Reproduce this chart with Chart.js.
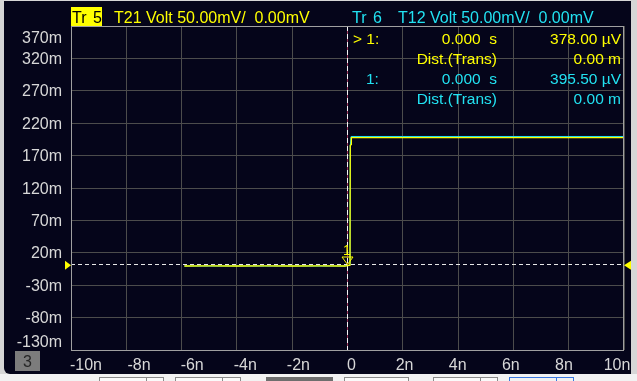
<!DOCTYPE html>
<html>
<head>
<meta charset="utf-8">
<script src="https://cdn.jsdelivr.net/npm/chart.js@4.4.1/dist/chart.umd.min.js"></script>
<style>
  html, body { margin: 0; padding: 0; background: #d6d6d6; }
  canvas { display: block; }
</style>
</head>
<body>
<canvas id="scope" width="637" height="381" style="width:637px;height:381px"></canvas>
<script>
// time axis in ns, voltage in mV
const xTicksNs = [-10, -8, -6, -4, -2, 0, 2, 4, 6, 8, 10];
const yTicksMv = [-130, -80, -30, 20, 70, 120, 170, 220, 270, 320, 370];

// Tr 5 (T21, yellow)
const tr5TimeNs = [-5.9, -5.0, -4.0, -3.0, -2.0, -1.0, -0.1, 0.09, 0.1, 0.13, 0.14, 2.0, 5.0, 10.0];
const tr5VoltMv = [-0.4, -0.3, -0.4, -0.3, -0.4, -0.3, -0.4, 1.0, 186, 187, 197.6, 197.6, 197.6, 197.6];

// Tr 6 (T12, cyan)
const tr6TimeNs = [-5.9, -3.0, -0.1, 0.09, 0.1, 0.13, 2.0, 10.0];
const tr6VoltMv = [-0.4, -0.4, -0.4, 1.0, 185, 199.5, 199.5, 199.5];

const markerTimeNs = 0;
const markerVoltMv = 0.378;

const FONT = '"Liberation Sans", Arial, sans-serif';
const YELLOW = '#ffff00';
const CYAN = '#22e2f2';
const LABEL = '#d8d8d8';

function pts(xs, ys) {
  return xs.map((x, i) => ({ x: x, y: ys[i] }));
}

const screenPlugin = {
  id: 'screen',
  beforeDraw(chart) {
    const ctx = chart.ctx;
    ctx.save();
    ctx.fillStyle = '#d6d6d6';
    ctx.fillRect(0, 0, 637, 381);
    ctx.fillStyle = '#f2f2f2';
    ctx.fillRect(0, 374, 637, 7);
    // soft keys at the bottom edge
    const keys = [[99, 163, 146], [175, 240, 222], [344, 408, 0], [433, 497, 480]];
    ctx.lineWidth = 1;
    keys.forEach(k => {
      ctx.fillStyle = '#fafafa';
      ctx.fillRect(k[0], 377, k[1] - k[0], 6);
      ctx.strokeStyle = '#8a8a8a';
      ctx.strokeRect(k[0] + 0.5, 377.5, k[1] - k[0], 8);
      if (k[2]) { ctx.beginPath(); ctx.moveTo(k[2] + 0.5, 377); ctx.lineTo(k[2] + 0.5, 381); ctx.stroke(); }
    });
    ctx.fillStyle = '#6e6e6e';
    ctx.fillRect(266, 377, 67, 4);
    ctx.strokeStyle = '#3a78e0';
    ctx.strokeRect(509.5, 377.5, 64, 8);
    ctx.beginPath(); ctx.moveTo(556.5, 377); ctx.lineTo(556.5, 381); ctx.stroke();

    ctx.fillStyle = '#05051a';
    ctx.beginPath();
    ctx.roundRect(4, 1, 627, 373, [0, 0, 0, 6]);
    ctx.fill();
    ctx.restore();
  },
  beforeDatasetsDraw(chart) {
    const ctx = chart.ctx;
    const a = chart.chartArea;
    const xs = chart.scales.x, ys = chart.scales.y;
    const y0 = Math.floor(ys.getPixelForValue(0)) - 0.5;
    const mx = Math.floor(xs.getPixelForValue(markerTimeNs)) + 0.5;
    ctx.save();
    ctx.lineWidth = 1;
    // reference level
    ctx.strokeStyle = '#e8e8e8';
    ctx.setLineDash([4, 3]);
    ctx.beginPath(); ctx.moveTo(a.left, y0); ctx.lineTo(a.right, y0); ctx.stroke();
    // marker line
    ctx.setLineDash([]);
    ctx.strokeStyle = '#9a3358';
    ctx.beginPath(); ctx.moveTo(mx, a.top); ctx.lineTo(mx, a.bottom); ctx.stroke();
    ctx.strokeStyle = '#f4f4f4';
    ctx.setLineDash([5, 3]);
    ctx.beginPath(); ctx.moveTo(mx, a.top); ctx.lineTo(mx, a.bottom); ctx.stroke();
    ctx.restore();
  },
  afterDraw(chart) {
    const ctx = chart.ctx;
    const a = chart.chartArea;
    const xs = chart.scales.x, ys = chart.scales.y;
    ctx.save();

    // plot frame
    ctx.strokeStyle = '#a0a0a0';
    ctx.lineWidth = 1;
    ctx.strokeRect(a.left + 0.5, a.top + 0.5, a.right - a.left - 1, a.bottom - a.top);

    // reference arrows
    const yr = ys.getPixelForValue(0) - 0.5;
    ctx.fillStyle = YELLOW;
    ctx.beginPath(); ctx.moveTo(65, yr - 4.5); ctx.lineTo(71, yr); ctx.lineTo(65, yr + 4.5); ctx.closePath(); ctx.fill();
    ctx.beginPath(); ctx.moveTo(631, yr - 4.5); ctx.lineTo(624, yr); ctx.lineTo(631, yr + 4.5); ctx.closePath(); ctx.fill();

    // marker triangle and label
    const mx = xs.getPixelForValue(markerTimeNs);
    const my = ys.getPixelForValue(markerVoltMv);
    ctx.strokeStyle = YELLOW;
    ctx.beginPath(); ctx.moveTo(mx - 5.5, my - 8.5); ctx.lineTo(mx + 5.5, my - 8.5); ctx.lineTo(mx, my - 1); ctx.closePath(); ctx.stroke();
    ctx.fillStyle = YELLOW;
    ctx.font = '14px ' + FONT;
    ctx.textAlign = 'center';
    ctx.textBaseline = 'alphabetic';
    ctx.fillText('1', mx - 0.5, my - 11);

    // axis labels
    ctx.font = '16px ' + FONT;
    ctx.fillStyle = LABEL;
    ctx.textAlign = 'right';
    ys.ticks.forEach(t => {
      let y = ys.getPixelForValue(t.value);
      y = Math.min(Math.max(y, a.top + 11.5), a.bottom - 9);
      ctx.fillText(t.value + 'm', 62, y + 5.5);
    });
    ctx.textAlign = 'center';
    xs.ticks.forEach(t => {
      const px = xs.getPixelForValue(t.value);
      const lx = 86 + (px - a.left) / (a.right - a.left) * 531;
      ctx.fillText(t.value === 0 ? '0' : t.value + 'n', lx, 370);
    });

    // channel box
    ctx.fillStyle = '#7c7c7c';
    ctx.fillRect(15, 351, 25, 20);
    ctx.fillStyle = '#262626';
    ctx.font = '16px ' + FONT;
    ctx.fillText('3', 27.5, 367);

    // header
    ctx.textAlign = 'left';
    ctx.fillStyle = YELLOW;
    ctx.fillRect(71, 7, 31, 19);
    ctx.fillStyle = '#000000';
    ctx.fillText('Tr', 72, 23);
    ctx.fillText('5', 93, 23);
    ctx.fillStyle = YELLOW;
    ctx.fillText('T21 Volt 50.00mV/  0.00mV', 114, 23);
    ctx.fillStyle = CYAN;
    ctx.fillText('Tr', 352, 23);
    ctx.fillText('6', 373, 23);
    ctx.fillText('T12 Volt 50.00mV/  0.00mV', 398, 23);

    // marker readout
    ctx.font = '15.5px ' + FONT;
    const rows = [
      [YELLOW, '> 1:', 353, '0.000  s', '378.00 \u00b5V', 44],
      [YELLOW, '', 353, 'Dist.(Trans)', '0.00 m', 64],
      [CYAN, '1:', 366, '0.000  s', '395.50 \u00b5V', 84],
      [CYAN, '', 366, 'Dist.(Trans)', '0.00 m', 104]
    ];
    rows.forEach(r => {
      ctx.fillStyle = r[0];
      ctx.textAlign = 'left';
      ctx.fillText(r[1], r[2], r[5]);
      ctx.textAlign = 'right';
      ctx.fillText(r[3], 497, r[5]);
      ctx.fillText(r[4], 621, r[5]);
    });
    ctx.restore();
  }
};

new Chart(document.getElementById('scope'), {
  type: 'scatter',
  data: {
    datasets: [
      {
        label: 'Tr 5 T21',
        data: pts(tr5TimeNs, tr5VoltMv),
        showLine: true,
        borderColor: YELLOW,
        borderWidth: 1.3,
        pointRadius: 0,
        order: 0
      },
      {
        label: 'Tr 6 T12',
        data: pts(tr6TimeNs, tr6VoltMv),
        showLine: true,
        borderColor: CYAN,
        borderWidth: 1,
        pointRadius: 0,
        order: 1
      }
    ]
  },
  options: {
    responsive: false,
    animation: false,
    devicePixelRatio: 1,
    layout: { padding: { left: 0, right: 13, top: 26, bottom: 0 } },
    plugins: { legend: { display: false }, tooltip: { enabled: false } },
    scales: {
      x: {
        type: 'linear',
        min: xTicksNs[0],
        max: xTicksNs[xTicksNs.length - 1],
        afterBuildTicks: s => { s.ticks = xTicksNs.map(v => ({ value: v })); },
        afterFit: s => { s.height = 31; },
        ticks: { color: 'rgba(0,0,0,0)', font: { size: 16 } },
        grid: { color: '#4c4c4c', drawTicks: false },
        border: { display: false }
      },
      y: {
        type: 'linear',
        min: yTicksMv[0],
        max: yTicksMv[yTicksMv.length - 1],
        afterBuildTicks: s => { s.ticks = yTicksMv.map(v => ({ value: v })); },
        afterFit: s => { s.width = 71; },
        ticks: { color: 'rgba(0,0,0,0)', font: { size: 16 } },
        grid: { color: '#4c4c4c', drawTicks: false },
        border: { display: false }
      }
    }
  },
  plugins: [screenPlugin]
});
</script>
</body>
</html>
